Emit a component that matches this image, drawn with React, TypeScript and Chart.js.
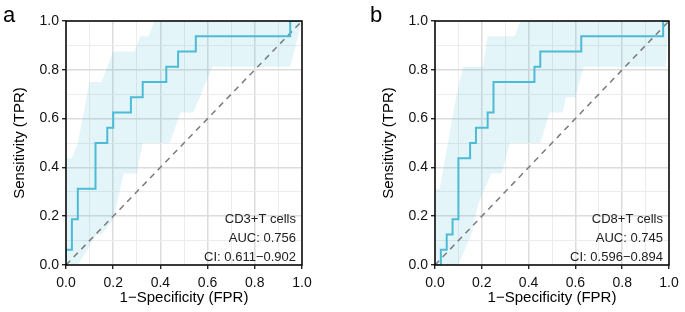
import React, { useEffect, useRef } from 'react';
import { Chart, registerables } from 'chart.js';
Chart.register(...registerables);

const FONT = '"Liberation Sans", Arial, Helvetica, sans-serif';

// Panel a: CD3+T cells ROC (step corners: vertical at previous x, then horizontal)
const fprA = [0, 0.025, 0.05, 0.125, 0.175, 0.2, 0.275, 0.325, 0.425, 0.475, 0.55, 0.95, 1];
const tprA = [0, 0.0625, 0.1875, 0.3125, 0.5, 0.5625, 0.625, 0.6875, 0.75, 0.8125, 0.875, 0.9375, 1];
const ciUpXA = [0, 0.025, 0.05, 0.1, 0.15, 0.2, 0.29, 0.315, 0.35, 0.375, 1];
const ciUpYA = [0.4375, 0.4375, 0.5, 0.75, 0.75, 0.875, 0.875, 0.9375, 0.9375, 1, 1];
const ciLoXA = [0, 0.05, 0.13, 0.15, 0.2, 0.245, 0.3, 0.325, 0.44, 0.485, 0.54, 0.62, 0.95, 1];
const ciLoYA = [0, 0, 0.125, 0.125, 0.1875, 0.375, 0.375, 0.5, 0.5, 0.625, 0.625, 0.8125, 0.8125, 1];
const textA = ['CD3+T cells', 'AUC: 0.756', 'CI: 0.611\u22120.902'];

// Panel b: CD8+T cells ROC
const fprB = [0, 0.025, 0.05, 0.075, 0.1, 0.15, 0.175, 0.225, 0.25, 0.425, 0.45, 0.625, 0.975, 1];
const tprB = [0, 0, 0.0625, 0.125, 0.1875, 0.4375, 0.5, 0.5625, 0.625, 0.75, 0.8125, 0.875, 0.9375, 1];
const ciUpXB = [0, 0.02, 0.09, 0.12, 0.205, 0.225, 0.34, 0.365, 1];
const ciUpYB = [0.3125, 0.3125, 0.6875, 0.8125, 0.8125, 0.9375, 0.9375, 1, 1];
const ciLoXB = [0, 0.1, 0.155, 0.185, 0.24, 0.285, 0.32, 0.45, 0.49, 0.545, 0.56, 0.6, 0.635, 0.985, 1];
const ciLoYB = [0, 0, 0.125, 0.25, 0.375, 0.375, 0.5, 0.5, 0.625, 0.625, 0.6875, 0.6875, 0.8125, 0.8125, 1];
const textB = ['CD8+T cells', 'AUC: 0.745', 'CI: 0.596\u22120.894'];

const diagX = [0, 1];
const diagY = [0, 1];

const LINE_COLOR = '#4DBBD5';
const BAND_COLOR = 'rgba(77,187,213,0.15)';

const isMajor = (v: number) => Math.round(v * 10) % 2 === 0;

function toPts(xs: number[], ys: number[]) {
  return xs.map((x, i) => ({ x, y: ys[i] }));
}

function bandPolygon(ux: number[], uy: number[], lx: number[], ly: number[]) {
  const pts = toPts(ux, uy);
  for (let i = lx.length - 1; i >= 0; i--) pts.push({ x: lx[i], y: ly[i] });
  return pts;
}

type PanelProps = {
  left: number; width: number; padLeft: number; padRight: number;
  fpr: number[]; tpr: number[];
  ux: number[]; uy: number[]; lx: number[]; ly: number[];
  text: string[];
};

function Panel(p: PanelProps) {
  const ref = useRef<HTMLCanvasElement>(null);
  useEffect(() => {
    if (!ref.current) return;
    const framePlugin = {
      id: 'frame' + p.left,
      afterDraw(chart: any) {
        const { ctx, chartArea: a } = chart;
        ctx.save();
        ctx.font = '13px ' + FONT;
        ctx.fillStyle = '#222';
        ctx.textAlign = 'right';
        ctx.textBaseline = 'alphabetic';
        p.text.forEach((t, i) => ctx.fillText(t, a.right - 6, a.bottom - 42 + i * 19));
        ctx.strokeStyle = '#000';
        ctx.lineWidth = 1.5;
        ctx.strokeRect(a.left, a.top, a.right - a.left, a.bottom - a.top);
        ctx.restore();
      },
    };
    const axisCommon = (title: string) => ({
      type: 'linear' as const,
      min: 0,
      max: 1,
      border: { display: false },
      grid: {
        color: (c: any) => (c.tick && isMajor(c.tick.value) ? '#dcdcdc' : '#ececec'),
        lineWidth: (c: any) => (c.tick && isMajor(c.tick.value) ? 1.5 : 1),
        tickLength: 4,
        tickWidth: 1.2,
        tickColor: (c: any) => (c.tick && isMajor(c.tick.value) ? '#000' : 'rgba(0,0,0,0)'),
      },
      ticks: {
        stepSize: 0.1,
        autoSkip: false,
        maxRotation: 0,
        color: '#111',
        font: { size: 14, family: FONT },
        callback: (v: any) => (isMajor(Number(v)) ? Number(v).toFixed(1) : ''),
      },
      title: { display: true, text: title, color: '#000', font: { size: 15, family: FONT } },
    });
    const x: any = axisCommon('1\u2212Specificity (FPR)');
    x.ticks.padding = 6;
    x.title.padding = { top: 0, bottom: 5 };
    x.afterFit = (s: any) => { s.height = 47; };
    const y: any = axisCommon('Sensitivity (TPR)');
    y.ticks.padding = 3;
    y.title.padding = { top: 11, bottom: 0 };
    y.afterFit = (s: any) => { s.width = 66; };

    const chart = new Chart(ref.current, {
      type: 'line',
      data: {
        datasets: [
          {
            data: toPts(p.fpr, p.tpr),
            borderColor: LINE_COLOR,
            borderWidth: 2,
            stepped: 'after',
            pointRadius: 0,
            fill: false,
          },
          {
            data: toPts(diagX, diagY),
            borderColor: '#7a7a7a',
            borderWidth: 1.5,
            borderDash: [6, 5],
            pointRadius: 0,
            fill: false,
          },
          {
            data: bandPolygon(p.ux, p.uy, p.lx, p.ly),
            borderWidth: 0,
            borderColor: 'rgba(0,0,0,0)',
            backgroundColor: BAND_COLOR,
            pointRadius: 0,
            fill: 'shape',
          },
        ] as any,
      },
      options: {
        animation: false,
        responsive: false,
        devicePixelRatio: 1,
        parsing: false,
        layout: { padding: { left: p.padLeft, right: p.padRight, top: 21, bottom: 0 } },
        plugins: { legend: { display: false }, tooltip: { enabled: false } },
        scales: { x, y },
      } as any,
      plugins: [framePlugin],
    });
    return () => chart.destroy();
  }, []);
  return (
    <canvas
      ref={ref}
      width={p.width}
      height={312}
      style={{ position: 'absolute', left: p.left, top: 0, width: p.width, height: 312 }}
    />
  );
}

export default function App() {
  return (
    <div style={{ position: 'fixed', left: 0, top: 0, width: 685, height: 312, background: '#fff', overflow: 'hidden' }}>
      <Panel left={0} width={342} padLeft={0} padRight={40}
        fpr={fprA} tpr={tprA} ux={ciUpXA} uy={ciUpYA} lx={ciLoXA} ly={ciLoYA} text={textA} />
      <Panel left={342} width={343} padLeft={27} padRight={16}
        fpr={fprB} tpr={tprB} ux={ciUpXB} uy={ciUpYB} lx={ciLoXB} ly={ciLoYB} text={textB} />
      <div style={{ position: 'absolute', left: 3, top: 4, fontFamily: FONT, fontSize: 22, lineHeight: 1, color: '#000' }}>a</div>
      <div style={{ position: 'absolute', left: 370, top: 4, fontFamily: FONT, fontSize: 22, lineHeight: 1, color: '#000' }}>b</div>
    </div>
  );
}
